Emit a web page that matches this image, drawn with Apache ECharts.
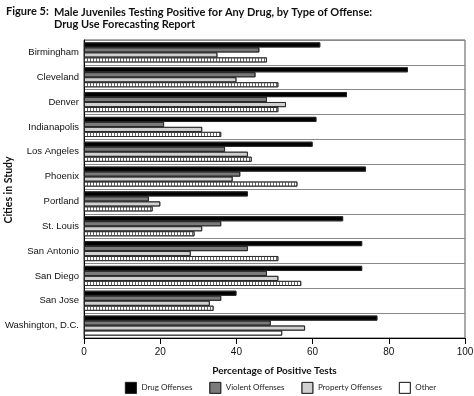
<!DOCTYPE html>
<html>
<head>
<meta charset="utf-8">
<script src="https://cdn.jsdelivr.net/npm/echarts@6/dist/echarts.min.js"></script>
<style>
  html, body { margin: 0; padding: 0; background: #fff; }
  #chart { width: 474px; height: 396px; }
</style>
</head>
<body>
<div id="chart"></div>
<script>
var chart = echarts.init(document.getElementById('chart'));

// cities, top to bottom
var cities = ['Birmingham', 'Cleveland', 'Denver', 'Indianapolis', 'Los Angeles', 'Phoenix',
  'Portland', 'St. Louis', 'San Antonio', 'San Diego', 'San Jose', 'Washington, D.C.'];

// percent positive, by type of offense
var drugOffenses     = [62, 85, 69, 61, 60, 74, 43, 68, 73, 73, 40, 77];
var violentOffenses  = [46, 45, 48, 21, 37, 41, 17, 36, 43, 48, 36, 49];
var propertyOffenses = [35, 40, 53, 31, 43, 39, 20, 31, 28, 51, 33, 58];
var otherOffenses    = [48, 51, 51, 36, 44, 56, 18, 29, 51, 57, 34, 52];

var xTicks = [0, 20, 40, 60, 80, 100];

var hatch = {
  symbol: 'rect',
  symbolSize: 1,
  color: '#666',
  dashArrayX: [1, 2],
  dashArrayY: [10, 0]
};

function bar(name, values, color, decal) {
  return {
    name: name,
    type: 'bar',
    barWidth: 5,
    barGap: '0%',
    data: values.map(function (v, i) {
      // the last city's "Other" bar is drawn plain in the original
      if (decal && i === values.length - 1) {
        return { value: v, itemStyle: { decal: { symbol: 'none' } } };
      }
      return v;
    }),
    itemStyle: {
      color: color,
      borderColor: '#222',
      borderWidth: 0.8,
      decal: decal || { symbol: 'none' }
    },
    emphasis: { disabled: true }
  };
}

var option = {
  animation: false,
  backgroundColor: '#fff',
  title: [{
    text: 'Figure 5:',
    left: 1, top: 1,
    textStyle: { fontFamily: 'Lato', fontWeight: 'bold', fontSize: 11, color: '#111' }
  }, {
    text: 'Male Juveniles Testing Positive for Any Drug, by Type of Offense:\nDrug Use Forecasting Report',
    left: 49, top: 1,
    textStyle: { fontFamily: 'Lato', fontWeight: 'bold', fontSize: 11, color: '#111', lineHeight: 12 }
  }],
  graphic: [{
    type: 'text',
    x: 9, y: 190,
    rotation: Math.PI / 2,
    style: {
      text: 'Cities in Study',
      fontFamily: 'Lato', fontWeight: 'bold', fontSize: 10.5, fill: '#111',
      align: 'center', verticalAlign: 'middle'
    }
  }],
  grid: {
    left: 84, right: 9, top: 40, bottom: 58,
    containLabel: false,
    outerBoundsMode: 'none',
    show: true,
    borderColor: '#555',
    borderWidth: 1
  },
  legend: {
    top: 377,
    left: 120,
    itemWidth: 11,
    itemHeight: 11,
    itemGap: 17,
    itemTextGap: 6,
    icon: 'rect',
    data: ['Drug Offenses', 'Violent Offenses', 'Property Offenses', 'Other'],
    textStyle: { fontFamily: 'Lato', fontSize: 8, color: '#222' },
    itemStyle: { borderColor: '#222', borderWidth: 0.8, decal: { symbol: 'none' } }
  },
  xAxis: {
    type: 'value',
    min: 0, max: 100, interval: 20,
    name: 'Percentage of Positive Tests',
    nameLocation: 'middle',
    nameGap: 28,
    nameTextStyle: { fontFamily: 'Lato', fontWeight: 'bold', fontSize: 10, color: '#111' },
    axisLine: { show: true, lineStyle: { color: '#000', width: 1 } },
    axisTick: { show: true, length: 6, lineStyle: { color: '#000' } },
    axisLabel: {
      fontFamily: 'Liberation Sans', fontSize: 10, color: '#111', margin: 9,
      formatter: function (v) { return xTicks.indexOf(v) >= 0 ? String(v) : ''; }
    },
    splitLine: { show: false }
  },
  yAxis: {
    type: 'category',
    inverse: true,
    data: cities,
    axisLine: { show: true, lineStyle: { color: '#000', width: 1 } },
    axisTick: { show: false },
    axisLabel: {
      fontFamily: 'Liberation Sans', fontSize: 9.5, color: '#111', margin: 5
    },
    splitLine: { show: true, lineStyle: { color: '#888', width: 1 } }
  },
  series: [
    bar('Drug Offenses', drugOffenses, '#000'),
    bar('Violent Offenses', violentOffenses, '#7a7a7a'),
    bar('Property Offenses', propertyOffenses, '#d0d0d0'),
    bar('Other', otherOffenses, '#fff', hatch)
  ]
};

chart.setOption(option);
</script>
</body>
</html>
